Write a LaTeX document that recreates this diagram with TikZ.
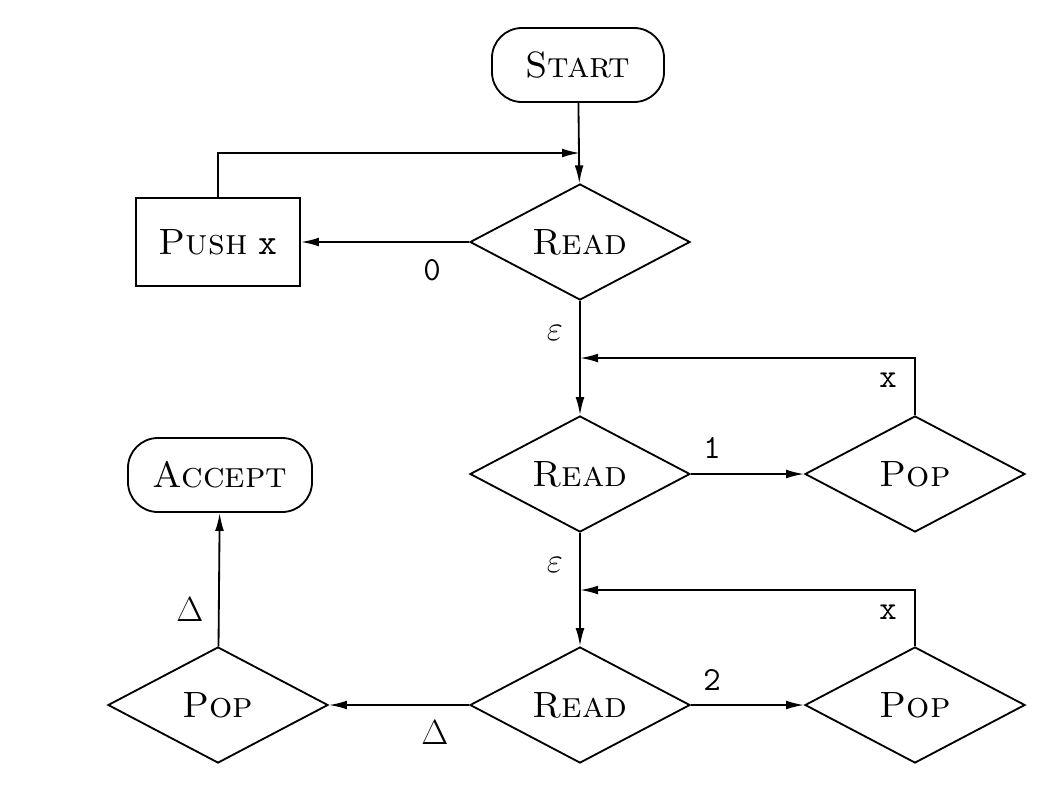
\documentclass[tikz,border=0pt]{standalone}
\usepackage{tikz}
\usetikzlibrary{shapes.geometric,arrows.meta}
\begin{document}
\begin{tikzpicture}[x=0.025cm,y=-0.025cm,line width=1.3pt,
  every node/.style={font=\fontsize{26}{30}\selectfont},
  dec/.style={draw,diamond,aspect=1.9,minimum width=5.5cm,minimum height=2.9cm,inner sep=0pt},
  term/.style={draw,rounded corners=0.75cm,minimum height=1.85cm,inner xsep=0.4cm},
  act/.style={draw,minimum width=4.1cm,minimum height=2.2cm},
  arr/.style={-{Latex[length=0.45cm,width=0.22cm]}},
  lab/.style={font=\fontsize{24}{28}\selectfont}]
  \useasboundingbox (0,0) rectangle (1064,804);
  \node[term,minimum width=4.3cm] (start) at (578,65) {\textsc{Start}};
  \node[dec] (read1) at (580,242) {\textsc{Read}};
  \node[act] (push) at (218,242) {\textsc{Push} \texttt{x}};
  \node[dec] (read2) at (580,474) {\textsc{Read}};
  \node[dec] (pop1) at (915,474) {\textsc{Pop}};
  \node[term,minimum width=4.6cm] (accept) at (220,475) {\textsc{Accept}};
  \node[dec] (read3) at (580,705) {\textsc{Read}};
  \node[dec] (pop2) at (218,705) {\textsc{Pop}};
  \node[dec] (pop3) at (915,705) {\textsc{Pop}};
  \coordinate (j1) at (580,153);
  \coordinate (j2) at (580,358);
  \coordinate (j3) at (580,590);
  % main flow
  \draw[arr] (start) -- (read1);
  \draw[arr] (push.north) |- (j1);
  \draw[arr] (read1) -- (push);
  \node[lab] (l0) at (432,270) {\texttt{0}};
  \draw[arr] (read1) -- (read2);
  \node[lab] (le1) at (555,333) {$\varepsilon$};
  \draw[arr] (pop1.north) |- (j2);
  \node[lab] (lx1) at (888,380) {\texttt{x}};
  \draw[arr] (read2) -- (pop1);
  \node[lab] (l1) at (712,448) {\texttt{1}};
  \draw[arr] (read2) -- (read3);
  \node[lab] (le2) at (555,565) {$\varepsilon$};
  \draw[arr] (pop3.north) |- (j3);
  \node[lab] (lx2) at (888,612) {\texttt{x}};
  \draw[arr] (read3) -- (pop3);
  \node[lab] (l2) at (712,680) {\texttt{2}};
  \draw[arr] (read3) -- (pop2);
  \node[lab] (ld1) at (435,733) {$\Delta$};
  \draw[arr] (pop2) -- (accept);
  \node[lab] (ld2) at (190,610) {$\Delta$};
\end{tikzpicture}
\end{document}
